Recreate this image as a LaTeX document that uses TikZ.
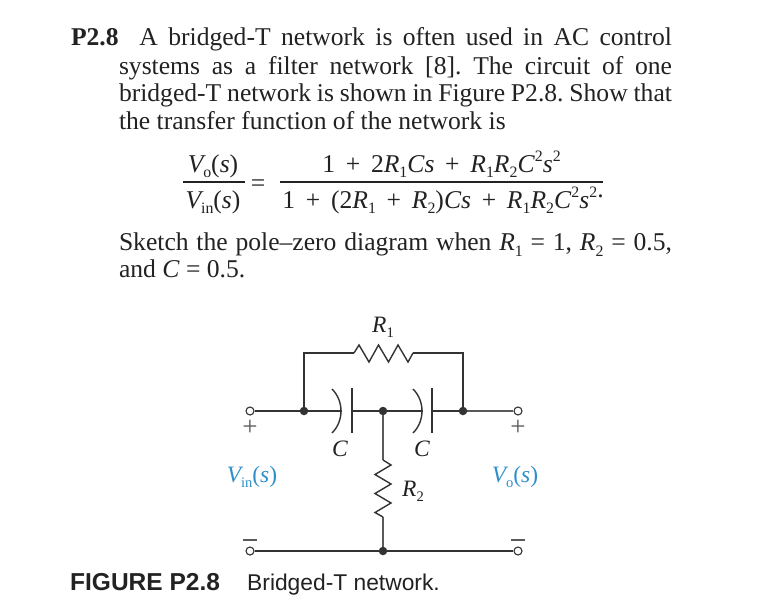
\documentclass[tikz,border=0pt]{standalone}
\usepackage{fontspec}
\setmainfont{Liberation Serif}
\setsansfont{Liberation Sans}
\usepackage{xcolor}
\definecolor{ink}{HTML}{222222}
\definecolor{wire}{HTML}{333333}
\definecolor{wiregray}{HTML}{5A5A5A}
\definecolor{vblue}{HTML}{2F8FCB}
\frenchspacing
\newcommand{\Sb}[1]{\raisebox{-0.22em}{\scalebox{0.62}{#1}}}
\newcommand{\Sp}[1]{\raisebox{0.42em}{\scalebox{0.62}{#1}}}
\newcommand{\Iv}[1]{\textit{#1}}
\newcommand{\Vv}{\Iv{V}\hspace{-0.1em}}
\newcommand{\Pl}{\hspace{0.42em}+\hspace{0.42em}}
\newcommand{\RR}{\Iv{R}\Sb{1}\Iv{R}\Sb{2}\Iv{C}\Sp{2}\Iv{s}\Sp{2}}
\tikzset{
  x=1pt,y=-1pt,
  body/.style={anchor=base west,inner sep=0pt,outer sep=0pt,text=ink,font=\fontsize{25.6}{28}\selectfont},
  eqn/.style={anchor=base,inner sep=0pt,outer sep=0pt,text=ink,font=\fontsize{25.6}{28}\selectfont},
  lab/.style={inner sep=0pt,outer sep=0pt,text=ink,font=\fontsize{23.5}{26}\selectfont},
  vlab/.style={lab,text=vblue},
  pm/.style={inner sep=0pt,outer sep=0pt,text=wiregray,font=\fontsize{27}{28}\selectfont},
  term/.style={circle,draw=wire,fill=white,line width=1.1pt,minimum size=8pt,inner sep=0pt},
  dot/.style={circle,fill=wire,minimum size=8.5pt,inner sep=0pt},
  wirel/.style={draw=wire,line width=1.4pt},
  wireg/.style={draw=wiregray,line width=1.4pt},
  bar/.style={draw=ink,line width=1.1pt},
}
\begin{document}
\begin{tikzpicture}
\useasboundingbox (0,0) rectangle (759,613);
\fill[white] (0,0) rectangle (759,613);
% text
\node[body] (l1) at (71,45.5) {\makebox[601pt][s]{\textbf{P2.8} \ A bridged-T network is often used in AC control}};
\node[body] (l2) at (119,74.5) {\makebox[553pt][s]{systems as a filter network [8]. The circuit of one}};
\node[body] (l3) at (119,101.5) {\makebox[553pt][s]{bridged-T network is shown in Figure P2.8. Show that}};
\node[body] (l4) at (119,129.5) {the transfer function of the network is};
\node[eqn] (fn1) at (213,172) {\Vv\Sb{o}(\Iv{s})};
\node[eqn] (fd1) at (213,208) {\Vv\Sb{in}(\Iv{s})};
\node[eqn] (eq) at (258,191) {=};
\node[eqn] (fn2) at (441.5,172) {1\Pl 2\Iv{R}\Sb{1}\Iv{Cs}\Pl\RR};
\node[eqn] (fd2) at (443,208) {1\Pl(2\Iv{R}\Sb{1}\Pl\Iv{R}\Sb{2})\Iv{Cs}\Pl\RR\raisebox{0.42em}{.}};
\coordinate (b1a) at (183,182); \coordinate (b1b) at (245,182);
\coordinate (b2a) at (280,182); \coordinate (b2b) at (603,182);
\draw[bar] (b1a) -- (b1b);
\draw[bar] (b2a) -- (b2b);
\node[body] (l5) at (119,250.5) {\makebox[553pt][s]{Sketch the pole--zero diagram when \Iv{R}\Sb{1} = 1, \Iv{R}\Sb{2} = 0.5,}};
\node[body] (l6) at (119,277.5) {and \Iv{C} = 0.5.};
\node[anchor=base west,inner sep=0pt,text=ink,font=\sffamily\fontsize{24.5}{26}\selectfont] (cap) at (70,590) {\textbf{FIGURE P2.8}};
\node[anchor=base west,inner sep=0pt,text=ink,font=\sffamily\fontsize{22.8}{26}\selectfont] (cap2) at (247,590) {Bridged-T network.};
% circuit nodes
\node[term] (tl) at (250,411) {};
\node[term] (tr) at (518,411) {};
\node[term] (bl) at (250,551) {};
\node[term] (br) at (518,551) {};
\node[dot] (n1) at (304,411) {};
\node[dot] (n2) at (383,411) {};
\node[dot] (n3) at (463,411) {};
\node[dot] (n4) at (383,551) {};
\coordinate (c1l) at (342,411); \coordinate (c1r) at (352,411);
\coordinate (c2l) at (423,411); \coordinate (c2r) at (432,411);
\coordinate (tlc) at (304,353); \coordinate (trc) at (463,353);
\coordinate (r1a) at (354,353); \coordinate (r1b) at (413,353);
\coordinate (r2a) at (383,460); \coordinate (r2b) at (383,517);
% wires
\draw[wirel] (tl) -- (n1);
\draw[wirel] (n1) -- (c1l);
\draw[wirel] (c1r) -- (n2);
\draw[wirel] (n2) -- (c2l);
\draw[wirel] (c2r) -- (n3);
\draw[wireg] (n3) -- (tr);
\draw[wirel] (n1) -- (tlc) -- (r1a);
\draw[wirel] (n3) -- (trc) -- (r1b);
\draw[wireg] (n2) -- (r2a);
\draw[wireg] (r2b) -- (n4);
\draw[wirel] (bl) -- (n4);
\draw[wirel] (n4) -- (br);
% resistors
\draw[wirel,line join=miter] (r1a) -- ++(5,-8) -- ++(10,17) -- ++(9.5,-17) -- ++(10,17) -- ++(9.5,-17) -- ++(10,17) -- (r1b);
\draw[wirel,line join=miter] (r2a) -- ++(8,5) -- ++(-16,9.5) -- ++(16,9.5) -- ++(-16,9.5) -- ++(16,9.5) -- ++(-16,9.5) -- (r2b);
% capacitors
\draw[wirel] (332,389) .. controls (344,401) and (344,421) .. (332,433);
\draw[wirel] (352,388) -- (352,433);
\draw[wirel] (413,389) .. controls (425,401) and (425,421) .. (413,433);
\draw[wirel] (432,388) -- (432,433);
% labels
\node[lab] (r1l) at (383,327) {\Iv{R}\Sb{1}};
\node[lab] (r2l) at (413,491) {\Iv{R}\Sb{2}};
\node[lab] (cl1) at (340,449) {\Iv{C}};
\node[lab] (cl2) at (422,449) {\Iv{C}};
\node[vlab] (vin) at (252,477) {\Vv\Sb{in}(\Iv{s})};
\node[vlab] (vo) at (515,477) {\Vv\Sb{o}(\Iv{s})};
\node[pm] (pl) at (250,428) {+};
\node[pm] (pr) at (518,428) {+};
\coordinate (mla) at (243,540); \coordinate (mlb) at (257,540);
\coordinate (mra) at (511,540); \coordinate (mrb) at (525,540);
\draw[wireg] (mla) -- (mlb);
\draw[wireg] (mra) -- (mrb);
\end{tikzpicture}
\end{document}
